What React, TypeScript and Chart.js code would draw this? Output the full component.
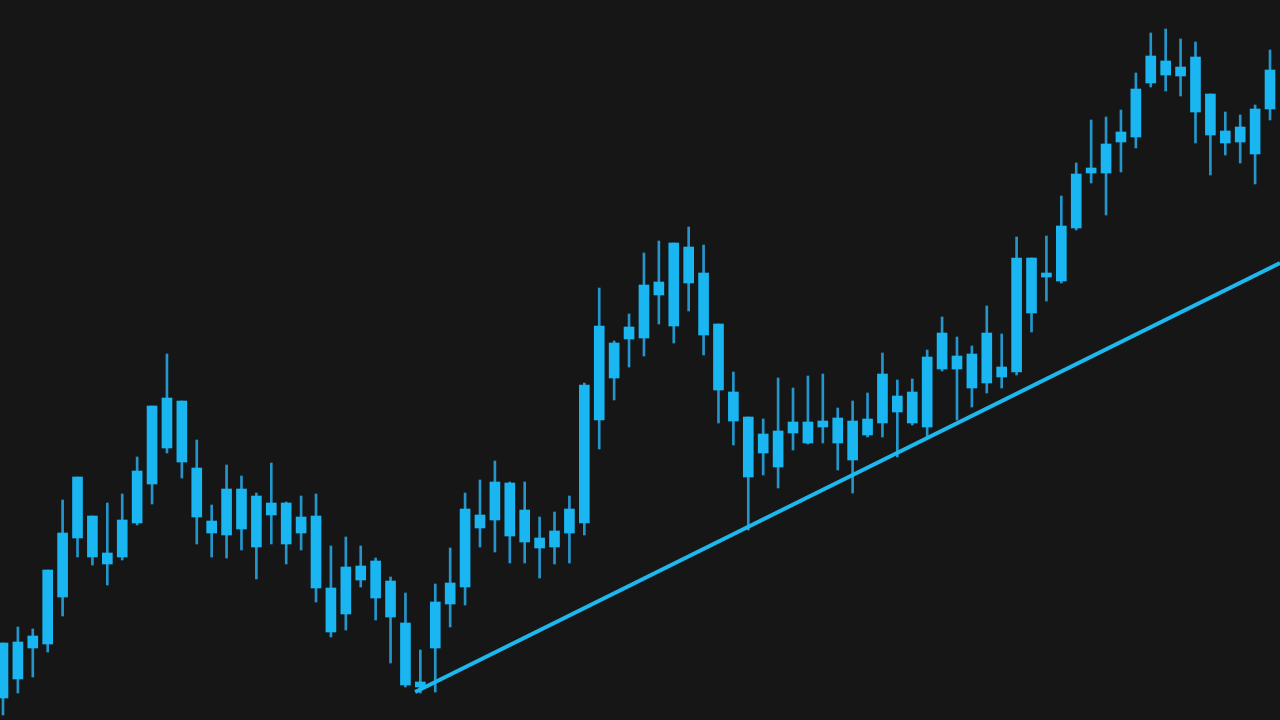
import React, { useEffect, useRef } from "react";
import { Chart, registerables } from "chart.js";

Chart.register(...registerables);

// OHLC values (price units), one entry per session
const opens = [
  102.2, 104.1, 107.2, 107.6, 112.3, 118.2, 120.4, 116.7, 116.3, 119.7,
  123.6, 127.2, 131.9, 125.2, 119.9, 118.5, 119.1, 122.4, 120.5, 121.7,
  120.3, 120.4, 113.2, 110.6, 114.0, 115.9, 113.9, 109.7, 103.8, 107.2,
  111.6, 113.3, 119.2, 120.0, 123.7, 121.0, 118.2, 117.3, 118.7, 119.7,
  130.0, 134.2, 138.1, 138.2, 142.5, 139.4, 143.7, 144.7, 139.6, 132.8,
  130.3, 126.7, 128.9, 128.7, 129.8, 129.3, 130.2, 129.9, 128.5, 129.7,
  132.4, 132.8, 129.3, 135.1, 136.4, 136.6, 133.7, 135.3, 134.8, 140.7,
  144.3, 143.9, 149.2, 154.7, 154.7, 157.8, 158.3, 163.7, 164.5, 165.3,
  166.3, 162.6, 158.9, 157.8, 156.6, 161.1,
];
const highs = [
  107.7, 109.3, 109.1, 115.0, 122.0, 124.3, 120.4, 121.7, 122.6, 126.3,
  131.4, 136.6, 131.9, 128.0, 121.5, 125.5, 124.4, 122.7, 125.7, 121.8,
  122.4, 122.6, 117.4, 118.3, 117.4, 116.2, 114.3, 112.7, 107.0, 113.6,
  117.2, 122.7, 124.0, 125.9, 123.8, 123.8, 120.3, 120.8, 122.4, 133.7,
  143.2, 137.9, 140.6, 146.7, 147.9, 147.7, 149.3, 147.5, 139.6, 134.8,
  130.3, 130.1, 134.2, 133.2, 134.4, 134.6, 131.2, 131.9, 132.7, 136.7,
  134.0, 134.1, 137.0, 140.3, 138.3, 137.4, 141.4, 138.6, 148.3, 146.2,
  148.4, 152.4, 155.7, 160.0, 160.3, 161.0, 164.7, 168.7, 169.1, 168.1,
  167.8, 162.6, 160.8, 160.5, 161.5, 167.0,
];
const lows = [
  100.5, 102.7, 104.3, 106.8, 110.4, 116.3, 115.5, 113.5, 116.0, 119.5,
  121.6, 126.7, 124.2, 117.6, 116.3, 116.2, 117.0, 114.1, 117.6, 115.6,
  117.0, 111.8, 108.3, 109.0, 113.3, 110.0, 105.7, 103.3, 102.7, 102.8,
  109.3, 111.5, 117.3, 116.8, 115.7, 115.7, 114.2, 115.6, 115.7, 118.5,
  127.1, 132.0, 135.3, 136.4, 139.6, 137.7, 140.9, 136.5, 129.7, 127.5,
  119.0, 124.5, 123.2, 127.0, 127.6, 127.7, 125.0, 122.7, 128.3, 128.3,
  126.3, 129.5, 128.3, 134.9, 130.0, 131.3, 132.7, 133.2, 134.5, 138.8,
  141.9, 143.7, 149.0, 153.7, 150.5, 154.8, 157.2, 163.3, 162.9, 162.4,
  157.7, 154.5, 156.5, 155.7, 153.6, 160.0,
];
const closes = [
  107.7, 107.8, 108.4, 115.0, 118.7, 124.3, 116.3, 115.6, 120.0, 124.9,
  131.4, 132.2, 125.8, 120.3, 118.7, 123.1, 123.1, 117.3, 121.7, 117.6,
  118.7, 113.2, 108.8, 115.3, 115.4, 112.2, 110.3, 103.5, 103.3, 111.8,
  113.7, 121.1, 120.5, 123.8, 118.4, 117.8, 117.2, 118.9, 121.1, 133.5,
  139.4, 137.7, 139.3, 143.5, 143.8, 147.7, 147.3, 138.5, 133.0, 129.9,
  124.3, 128.6, 125.3, 129.8, 127.7, 129.9, 127.7, 126.0, 130.1, 134.6,
  130.8, 129.7, 136.3, 138.7, 135.1, 133.2, 138.7, 134.3, 146.2, 146.2,
  144.7, 149.4, 154.6, 155.2, 157.6, 158.8, 163.1, 166.4, 165.9, 164.4,
  160.8, 158.5, 157.7, 159.3, 161.1, 165.0,
];

// Support trend line: [session index, price]
const trendStart = [27.65, 102.8];
const trendEnd = [85.67, 145.7];

const BG = "#161616";
const BODY = "#19b6f2";
const WICK = "#2596cc";
const LINE = "#1db8ee";

export default function App() {
  const ref = useRef<HTMLCanvasElement | null>(null);

  useEffect(() => {
    if (!ref.current) return;
    const bodies = opens.map((o, i) => ({
      x: i,
      y: [Math.min(o, closes[i]), Math.max(o, closes[i]) + 0.0001],
    }));
    const wicks = highs.map((h, i) => ({ x: i, y: [lows[i], h] }));

    const chart = new Chart(ref.current, {
      type: "bar",
      data: {
        datasets: [
          {
            type: "line",
            data: [
              { x: trendStart[0], y: trendStart[1] },
              { x: trendEnd[0], y: trendEnd[1] },
            ],
            borderColor: LINE,
            borderWidth: 4,
            pointRadius: 0,
            order: 0,
          } as any,
          {
            data: bodies as any,
            backgroundColor: BODY,
            borderWidth: 0,
            barThickness: 10,
            grouped: false,
            order: 1,
          },
          {
            data: wicks as any,
            backgroundColor: WICK,
            borderWidth: 0,
            barThickness: 2,
            grouped: false,
            order: 2,
          },
        ],
      },
      options: {
        animation: false,
        responsive: false,
        devicePixelRatio: 1,
        layout: { padding: 0 },
        plugins: {
          legend: { display: false },
          tooltip: { enabled: false },
        },
        scales: {
          x: {
            type: "linear",
            display: false,
            min: -0.2,
            max: 85.67,
            offset: false,
          },
          y: {
            type: "linear",
            display: false,
            min: 100,
            max: 172,
          },
        },
      },
    });
    return () => chart.destroy();
  }, []);

  return (
    <div
      style={{
        position: "fixed",
        left: 0,
        top: 0,
        width: 1280,
        height: 720,
        background: BG,
      }}
    >
      <canvas ref={ref} width={1280} height={720} style={{ display: "block" }} />
    </div>
  );
}
